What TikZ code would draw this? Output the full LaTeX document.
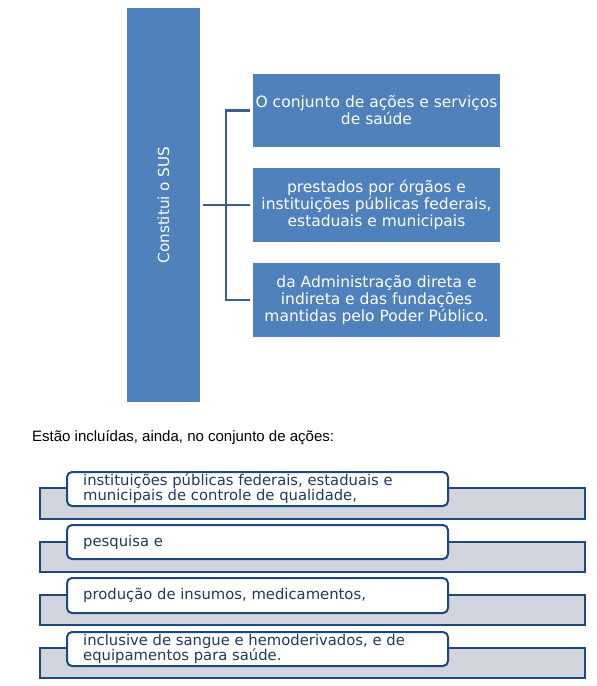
\documentclass[tikz,border=0pt]{standalone}
\usepackage{fontspec}
\setmainfont{Liberation Sans}
\newfontfamily\verd{DejaVu Sans}
\definecolor{topblue}{HTML}{4F81BD}
\definecolor{connblue}{HTML}{3B5F91}
\definecolor{navy}{HTML}{1F497D}
\definecolor{txtnavy}{HTML}{1F3A63}
\definecolor{barfill}{HTML}{D2D5DD}
\tikzset{
  bluebox/.style={fill=topblue, draw=none, text=white, inner sep=0pt, align=center,
    font=\verd\fontsize{15.5}{17}\selectfont},
  conn/.style={draw=connblue, line width=2.4pt, line join=miter},
  graybar/.style={fill=barfill, draw=navy, line width=1.6pt, inner sep=0pt},
  whitebox/.style={fill=white, draw=navy, line width=2pt, rounded corners=5pt, inner sep=0pt},
  rowtext/.style={text=txtnavy, anchor=west, align=left, inner sep=0pt,
    font=\verd\fontsize{14.8}{15}\selectfont},
}
\begin{document}
\begin{tikzpicture}[x=1pt,y=-1pt]
\useasboundingbox (0,0) rectangle (597,686);
% top part
\node[bluebox, minimum width=73pt, minimum height=394pt] (tall) at (163.5,205) {};
\node[text=white, rotate=90, font=\verd\fontsize{15.2}{17}\selectfont] (talltext) at (tall.center) {Constitui o SUS};
\node[bluebox, minimum width=247pt, minimum height=73pt] (b1) at (376.5,110.5) {O conjunto de ações e serviços\\de saúde};
\node[bluebox, minimum width=247pt, minimum height=74pt] (b2) at (376.5,205) {prestados por órgãos e\\instituições públicas federais,\\estaduais e municipais};
\node[bluebox, minimum width=247pt, minimum height=74pt] (b3) at (376.5,300) {da Administração direta e\\indireta e das fundações\\mantidas pelo Poder Público.};
\coordinate (spine) at (226,205);
\draw[conn, shorten <=3pt, shorten >=3pt] (tall.east) -- (b2.west);
\draw[conn] ([xshift=-3pt]b1.west) -| (spine) |- ([xshift=-3pt]b3.west);
% caption
\node[anchor=west, inner sep=0pt, font=\fontsize{15}{18}\selectfont] (cap) at (32,438) {Estão incluídas, ainda, no conjunto de ações:};
% bottom rows
\node[graybar, minimum width=545pt, minimum height=31pt] (g1) at (312.5,503.5) {};
\node[whitebox, minimum width=381pt, minimum height=34pt] (w1) at (257.5,489) {};
\node[rowtext] (t1) at ([xshift=17pt]w1.west) {instituições públicas federais, estaduais e\\municipais de controle de qualidade,};
\node[graybar, minimum width=545pt, minimum height=30pt] (g2) at (312.5,557) {};
\node[whitebox, minimum width=381pt, minimum height=34pt] (w2) at (257.5,542) {};
\node[rowtext] (t2) at ([xshift=17pt]w2.west) {pesquisa e};
\node[graybar, minimum width=545pt, minimum height=30pt] (g3) at (312.5,610) {};
\node[whitebox, minimum width=381pt, minimum height=35pt] (w3) at (257.5,595.5) {};
\node[rowtext] (t3) at ([xshift=17pt]w3.west) {produção de insumos, medicamentos,};
\node[graybar, minimum width=545pt, minimum height=30pt] (g4) at (312.5,663) {};
\node[whitebox, minimum width=381pt, minimum height=34pt] (w4) at (257.5,649) {};
\node[rowtext] (t4) at ([xshift=17pt]w4.west) {inclusive de sangue e hemoderivados, e de\\equipamentos para saúde.};
\end{tikzpicture}
\end{document}
